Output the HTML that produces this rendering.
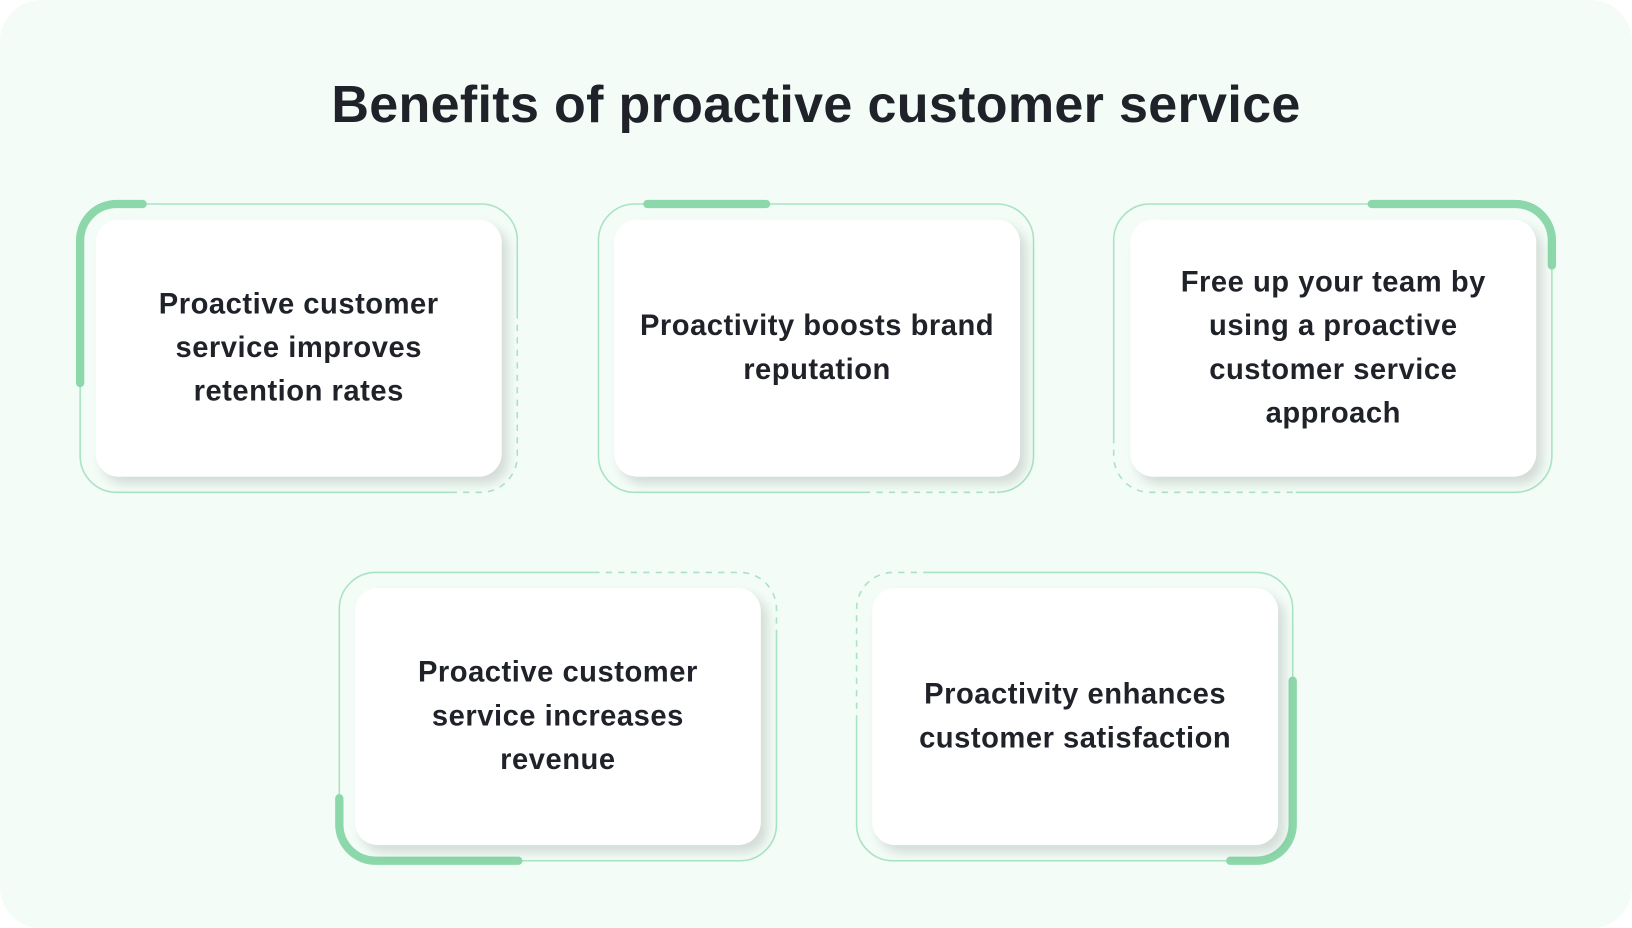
<!DOCTYPE html>
<html><head><meta charset="utf-8"><style>
html,body{margin:0;padding:0;background:#fff;}
body{width:1632px;height:928px;overflow:hidden;}
#w{width:1568px;height:892px;transform:scale(1.04082);transform-origin:0 0;position:relative;background:#f3fcf7;border-radius:40px;font-family:"Liberation Sans",sans-serif;}
h1{position:absolute;left:0;right:0;top:71px;margin:0;text-align:center;font-size:50px;font-weight:bold;color:#1f2329;letter-spacing:0.3px;}
.c{position:absolute;width:390px;height:247px;background:#fff;border-radius:22px;box-shadow:6px 7px 10px rgba(0,0,0,0.13);display:flex;align-items:center;justify-content:center;text-align:center;font-size:28px;font-weight:bold;color:#1f2329;line-height:42px;letter-spacing:0.5px;}
.c span{position:relative;top:-1px;}
svg{position:absolute;left:0;top:0;}
</style></head><body><div id="w">
<h1>Benefits of proactive customer service</h1>
<svg width="1568" height="892">
<g fill="none" stroke="#a9e3c3" stroke-width="1.5">
<rect x="77" y="196" width="420" height="277" rx="35"/>
<rect x="575" y="196" width="418" height="277" rx="35"/>
<rect x="1070" y="196" width="421" height="277" rx="35"/>
<rect x="326" y="550" width="420" height="277" rx="35"/>
<rect x="823" y="550" width="419" height="277" rx="35"/>
</g>
<g fill="none" stroke="#f3fcf7" stroke-width="4">
<path d="M497,300 V438 A35,35 0 0 1 462,473 H435"/>
<path d="M830,473 H958"/>
<path d="M1070,420 V438 A35,35 0 0 0 1105,473 H1245"/>
<path d="M570,550 H711 A35,35 0 0 1 746,585 V605"/>
<path d="M893,550 H858 A35,35 0 0 0 823,585 V690"/>
</g>
<g fill="none" stroke="#a9e3c3" stroke-width="1.5" stroke-dasharray="6 6">
<path d="M497,300 V438 A35,35 0 0 1 462,473 H435"/>
<path d="M830,473 H958"/>
<path d="M1070,420 V438 A35,35 0 0 0 1105,473 H1245"/>
<path d="M570,550 H711 A35,35 0 0 1 746,585 V605"/>
<path d="M893,550 H858 A35,35 0 0 0 823,585 V690"/>
</g>
<g fill="none" stroke="#8dd8aa" stroke-width="8" stroke-linecap="round">
<path d="M137,196 H112 A35,35 0 0 0 77,231 V368"/>
<path d="M622,196 H736"/>
<path d="M1318,196 H1456 A35,35 0 0 1 1491,231 V255"/>
<path d="M326,767 V792 A35,35 0 0 0 361,827 H498"/>
<path d="M1242,654 V792 A35,35 0 0 1 1207,827 H1182"/>
</g>
</svg>
<div class="c" style="left:92px;top:211px;"><span>Proactive customer<br>service improves<br>retention rates</span></div>
<div class="c" style="left:590px;top:211px;"><span>Proactivity boosts brand<br>reputation</span></div>
<div class="c" style="left:1086px;top:211px;"><span>Free up your team by<br>using a proactive<br>customer service<br>approach</span></div>
<div class="c" style="left:341px;top:565px;"><span>Proactive customer<br>service increases<br>revenue</span></div>
<div class="c" style="left:838px;top:565px;"><span>Proactivity enhances<br>customer satisfaction</span></div>
</div></body></html>
